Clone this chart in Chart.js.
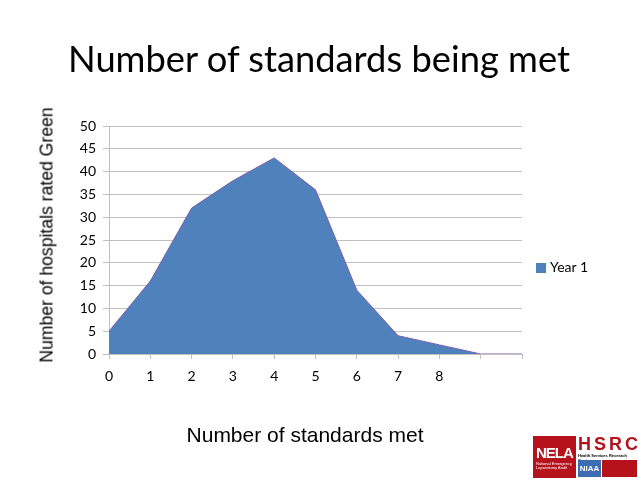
<!DOCTYPE html>
<html>
<head>
<meta charset="utf-8">
<script src="https://cdn.jsdelivr.net/npm/chart.js@4"></script>
<style>
  body { margin: 0; background: #fff; }
  #wrap { position: relative; width: 638px; height: 478px; overflow: hidden; }
  #chart { position: absolute; left: 0; top: 0; }
  .txt { position: absolute; white-space: nowrap; color: #000; }
  #title { left: 0; width: 638px; top: 36px; text-align: center; font: 36.3px Lato, sans-serif; }
  #ytitle { left: 47px; top: 235px; font: 17.6px "Liberation Sans", Arial, sans-serif;
            transform: translate(-50%, -50%) rotate(-90deg); }
  #xtitle { left: 305px; top: 435px; font: 21px "Liberation Sans", Arial, sans-serif; transform: translate(-50%, -50%); }
  #legend { left: 536px; top: 258px; font: 14px Lato, sans-serif; }
  #legend i { display: inline-block; width: 10px; height: 10px; background: #4F81BD; margin-right: 4px; vertical-align: -1px; }
  .logo { position: absolute; }
</style>
</head>
<body>
<div id="wrap">
  <canvas id="chart" width="638" height="478"></canvas>
  <div class="txt" id="title">Number of standards being met</div>
  <div class="txt" id="ytitle">Number of hospitals rated Green</div>
  <div class="txt" id="xtitle">Number of standards met</div>
  <div class="txt" id="legend"><i></i>Year 1</div>

  <!-- logo block -->
  <div class="logo" style="left:533px;top:436px;width:43px;height:42px;background:#b5121b;color:#fff;">
    <div style="font:bold 15px 'Liberation Sans Narrow','Liberation Sans';margin:8px 0 0 3px;letter-spacing:-1px;">NELA</div>
    <div style="font:4px 'Liberation Sans';margin:1px 0 0 3px;line-height:4px;">National Emergency<br>Laparotomy Audit</div>
  </div>
  <div class="logo" style="left:578px;top:434px;font:bold 18px 'Liberation Sans';color:#b5121b;letter-spacing:3px;">HSRC</div>
  <div class="logo" style="left:578px;top:453px;font:bold 4px 'Liberation Sans';color:#000;">Health Services Research Centre</div>
  <div class="logo" style="left:578px;top:460px;width:23px;height:17px;background:#3c6db3;color:#fff;font:bold 8px 'Liberation Sans';text-align:center;line-height:17px;">NIAA</div>
  <div class="logo" style="left:602px;top:460px;width:35px;height:17px;background:#b5121b;"></div>
</div>
<script>
const categories = ["0", "1", "2", "3", "4", "5", "6", "7", "8", "", ""];
const year1 = [5, 16, 32, 38, 43, 36, 14, 4, 2, 0, 0];
const yTicks = [0, 5, 10, 15, 20, 25, 30, 35, 40, 45, 50];

const gridColor = "#bfbfbf";

new Chart(document.getElementById("chart"), {
  type: "line",
  data: {
    labels: categories,
    datasets: [{
      label: "Year 1",
      data: year1,
      fill: "origin",
      backgroundColor: "#4F81BD",
      borderColor: "#7a5ea8",
      borderWidth: 1,
      pointRadius: 0,
      tension: 0
    }]
  },
  options: {
    responsive: false,
    animation: false,
    layout: { padding: { left: 0, right: 116, top: 126, bottom: 94 } },
    plugins: { legend: { display: false }, tooltip: { enabled: false } },
    scales: {
      x: {
        offset: false,
        grid: { drawOnChartArea: false, drawTicks: true, tickLength: 5, color: gridColor },
        border: { color: gridColor },
        ticks: { color: "#000", font: { family: "Lato", size: 14 }, padding: 9, maxRotation: 0, autoSkip: false },
        afterFit: s => { s.height = 30; }
      },
      y: {
        min: 0, max: 50,
        afterBuildTicks: s => { s.ticks = yTicks.map(v => ({ value: v })); },
        grid: { color: gridColor, tickLength: 6 },
        border: { color: gridColor },
        ticks: { color: "#000", font: { family: "Lato", size: 14 }, padding: 7 },
        afterFit: s => { s.width = 109; }
      }
    }
  }
});
</script>
</body>
</html>
